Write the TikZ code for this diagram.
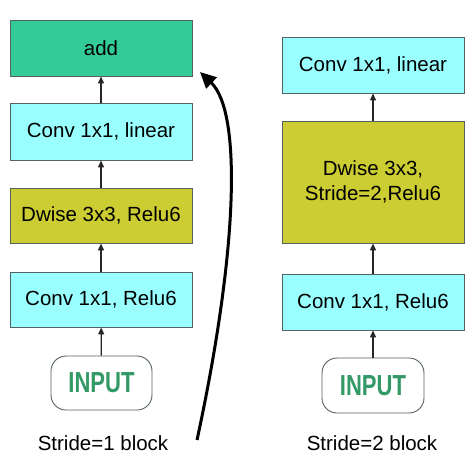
\documentclass[tikz,border=0pt]{standalone}
\usepackage{fontspec}
\setmainfont{Liberation Sans}
\usetikzlibrary{arrows.meta}
\definecolor{addgreen}{HTML}{33CC99}
\definecolor{convcyan}{HTML}{99FFFF}
\definecolor{dwolive}{HTML}{CCCC33}
\definecolor{inputgreen}{HTML}{339966}
\definecolor{edgegrey}{HTML}{556060}
\tikzset{
  blk/.style={draw=edgegrey, line width=0.9pt, minimum width=182pt, inner sep=0pt,
    font=\fontsize{20.5}{25}\selectfont, text=black, align=center},
  addbox/.style={blk, fill=addgreen},
  convbox/.style={blk, fill=convcyan},
  dwbox/.style={blk, fill=dwolive},
  inbox/.style={draw=edgegrey, line width=0.9pt, rounded corners=15pt, fill=white, inner sep=0pt,
    text=inputgreen, font=\fontsize{29}{32}\selectfont\bfseries},
  lbl/.style={font=\fontsize{20.5}{25}\selectfont, text=black},
  flow/.style={-{Triangle[length=7pt,width=6pt]}, line width=1.3pt, black!85},
  skip/.style={-{Triangle[length=16pt,width=15pt]}, line width=3pt, black}
}
\begin{document}
\begin{tikzpicture}[x=1pt,y=1pt]
\useasboundingbox (0,0) rectangle (474,-474);
% left column
\node[addbox, minimum height=56pt] (add) at (101,-48) {add};
\node[convbox, minimum height=57pt] (linL) at (101,-131.5) {Conv 1x1, linear};
\node[dwbox, minimum height=55pt] (dwL) at (101,-215.5) {Dwise 3x3, Relu6};
\node[convbox, minimum height=55pt] (reL) at (101,-299.5) {Conv 1x1, Relu6};
\node[inbox, minimum width=101pt, minimum height=54pt] (inL) at (101.5,-383) {\scalebox{0.76}[1]{INPUT}};
\node[lbl] (labL) at (103,-443) {Stride=1 block};
% right column
\node[convbox, minimum height=56pt] (linR) at (373,-65) {Conv 1x1, linear};
\node[dwbox, minimum height=122pt] (dwR) at (373,-182) {Dwise 3x3,\\Stride=2,Relu6};
\node[convbox, minimum height=56pt] (reR) at (373,-302) {Conv 1x1, Relu6};
\node[inbox, minimum width=102pt, minimum height=55pt] (inR) at (373,-385.5) {\scalebox{0.76}[1]{INPUT}};
\node[lbl] (labR) at (372,-443) {Stride=2 block};
% flow arrows
\draw[flow] (inL) -- (reL);
\draw[flow] (reL) -- (dwL);
\draw[flow] (dwL) -- (linL);
\draw[flow] (linL) -- (add);
\draw[flow] (inR) -- (reR);
\draw[flow] (reR) -- (dwR);
\draw[flow] (dwR) -- (linR);
% skip connection
\coordinate (s0) at (197,-440);
\coordinate (s1) at (200,-72);
\draw[skip] (s0) .. controls (238,-250) and (242,-112) .. (s1);
\end{tikzpicture}
\end{document}
